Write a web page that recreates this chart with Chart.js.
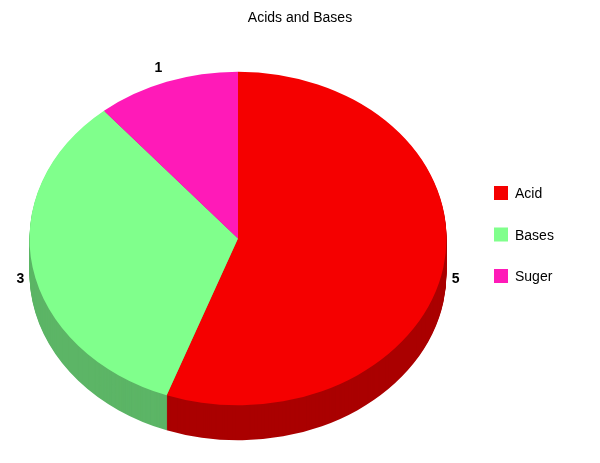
<!DOCTYPE html>
<html>
<head>
<meta charset="utf-8">
<script src="https://cdn.jsdelivr.net/npm/chart.js@4.4.1/dist/chart.umd.min.js"></script>
<style>
  html, body { margin: 0; padding: 0; background: #fff; }
  #wrap { width: 600px; height: 463px; }
</style>
</head>
<body>
<div id="wrap"><canvas id="pieChart"></canvas></div>
<script>
const chartTitle = "Acids and Bases";
const categories = ["Acid", "Bases", "Suger"];
const values = [5, 3, 1];

const topColors = ["#f50000", "#80ff8c", "#ff1ab8"];
const sideColors = ["#aa0000", "#5cb566", "#b8127f"];

const tilt = 0.8;   // vertical squash of the pie
const depth = 35;   // height of the pie's side in px
const fontFamily = "'Liberation Sans', Arial, sans-serif";

// fake 3D: squash the pie and stack darker copies under it
const pie3d = {
  id: "pie3d",
  beforeDatasetsDraw(chart) {
    const ctx = chart.ctx;
    const arcs = chart.getDatasetMeta(0).data;
    const cx = arcs[0].x, cy = arcs[0].y;
    ctx.save();
    ctx.translate(cx, cy);
    ctx.scale(1, tilt);
    ctx.translate(-cx, -cy);
    for (let d = depth; d > 0; d--) {
      arcs.forEach((arc, i) => {
        const side = Object.create(arc);
        side.options = Object.assign({}, arc.options, { backgroundColor: sideColors[i] });
        ctx.save();
        ctx.translate(0, d / tilt);
        arc.constructor.prototype.draw.call(side, ctx);
        ctx.restore();
      });
    }
  },
  afterDatasetsDraw(chart) {
    chart.ctx.restore();
  },
  afterDraw(chart) {
    const ctx = chart.ctx;
    const arcs = chart.getDatasetMeta(0).data;
    const cx = arcs[0].x, cy = arcs[0].y;

    ctx.save();
    ctx.fillStyle = "#000";

    // title
    ctx.font = "14px " + fontFamily;
    ctx.textAlign = "center";
    ctx.textBaseline = "alphabetic";
    ctx.fillText(chartTitle, chart.width / 2, 22);

    // value labels outside the slices
    ctx.font = "bold 14px " + fontFamily;
    ctx.textBaseline = "middle";
    arcs.forEach((arc, i) => {
      const mid = (arc.startAngle + arc.endAngle) / 2;
      const r = arc.outerRadius;
      const x = cx + Math.cos(mid) * r * 1.06 - (Math.sin(mid) < 0 ? 4 : 0);
      let y = cy + Math.sin(mid) * r * tilt * 1.1 + 2;
      if (Math.sin(mid) > 0) y += depth * 0.2;
      ctx.fillText(String(values[i]), x, y);
    });

    // legend
    ctx.font = "14px " + fontFamily;
    ctx.textAlign = "left";
    categories.forEach((name, i) => {
      const top = 186 + i * 41.5;
      ctx.fillStyle = topColors[i];
      ctx.fillRect(494, top, 14, 14);
      ctx.fillStyle = "#000";
      ctx.fillText(name, 515, top + 8.5);
    });
    ctx.restore();
  }
};

new Chart(document.getElementById("pieChart"), {
  type: "pie",
  data: {
    labels: categories,
    datasets: [{
      data: values,
      backgroundColor: topColors,
      borderWidth: 0,
      hoverOffset: 0
    }]
  },
  options: {
    responsive: true,
    maintainAspectRatio: false,
    animation: false,
    layout: { padding: { left: 29, right: 153, top: 30, bottom: 16 } },
    plugins: {
      legend: { display: false },
      title: { display: false },
      tooltip: { enabled: false }
    }
  },
  plugins: [pie3d]
});
</script>
</body>
</html>
